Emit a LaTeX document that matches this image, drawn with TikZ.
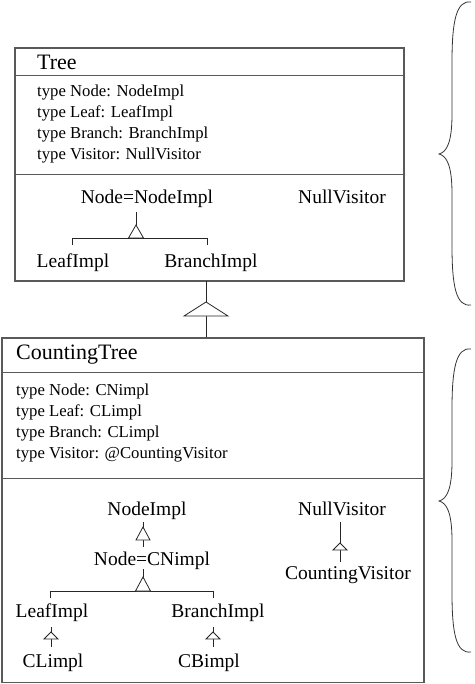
\documentclass[tikz,border=0pt]{standalone}
\usepackage{fontspec}
\setmainfont{Liberation Serif}
\begin{document}
\begin{tikzpicture}[x=1pt,y=-1pt,
  umlbox/.style={draw=black!65,line width=1.1pt},
  sepline/.style={draw=black!65,line width=1pt},
  titletext/.style={font=\fontsize{22}{26}\selectfont,anchor=base west,inner sep=0pt},
  attrtext/.style={font=\fontsize{16.7}{21}\selectfont,anchor=base west,inner sep=0pt},
  clstext/.style={font=\fontsize{19.5}{23}\selectfont,anchor=base,inner sep=0pt},
  conn/.style={draw=black!85,line width=0.8pt},
  tri/.style={draw=black!85,line width=0.8pt,fill=white},
  bracestyle/.style={draw=black!80,line width=0.8pt},
  curlybrace/.pic={
    \draw[bracestyle] (0,0) .. controls (-15,-2) and (-19,20) .. (-19,60)
      -- (-19,112) .. controls (-19,140) and (-24,150) .. (-32,152)
      .. controls (-24,154) and (-19,164) .. (-19,192)
      -- (-19,244) .. controls (-19,284) and (-15,305) .. (0,303);
  }]
\useasboundingbox (0,0) rectangle (474,684);

% ---------------- Tree box ----------------
\draw[umlbox] (15,48) rectangle (404,281);
\draw[sepline] (15,76) -- (404,76);
\draw[sepline] (15,175) -- (404,175);
\node[titletext] (treetitle) at (37,70) {Tree};
\node[attrtext] (ta1) at (37,97) {type Node: NodeImpl};
\node[attrtext] (ta2) at (37,118) {type Leaf: LeafImpl};
\node[attrtext] (ta3) at (37,139) {type Branch: BranchImpl};
\node[attrtext] (ta4) at (37,160) {type Visitor: NullVisitor};

\node[clstext] (tnode) at (147,204) {Node=NodeImpl};
\node[clstext] (tnull) at (342,204) {NullVisitor};
\node[clstext] (tleaf) at (73,267) {LeafImpl};
\node[clstext] (tbranch) at (211,267) {BranchImpl};

\coordinate (tntop) at (136,212);
\coordinate (tnbar) at (136,238);
\coordinate (tbl) at (72,245);
\coordinate (tbr) at (207,245);
\draw[conn] (tntop) -- (tnbar);
\draw[conn] (tbl) -- (72,238) -- (207,238) -- (tbr);
\draw[tri] (136,225) -- (128.5,238) -- (143.5,238) -- cycle;

% ---------------- inheritance Tree <- CountingTree ----------------
\coordinate (treebot) at (206,281);
\coordinate (ctop) at (206,338);
\draw[conn] (treebot) -- (ctop);
\draw[tri] (206,302) -- (184,316) -- (228,316) -- cycle;

% ---------------- CountingTree box ----------------
\draw[umlbox] (2,338) rectangle (424,682.5);
\draw[sepline] (2,372) -- (424,372);
\draw[sepline] (2,478) -- (424,478);
\node[titletext] (ctitle) at (16,359) {CountingTree};
\node[attrtext] (ca1) at (16,395) {type Node: CNimpl};
\node[attrtext] (ca2) at (16,416) {type Leaf: CLimpl};
\node[attrtext] (ca3) at (16,437) {type Branch: CLimpl};
\node[attrtext] (ca4) at (16,458) {type Visitor: @CountingVisitor};

\node[clstext] (cnodeimpl) at (147,515) {NodeImpl};
\node[clstext] (cnode) at (152,565) {Node=CNimpl};
\node[clstext] (cleaf) at (52,617) {LeafImpl};
\node[clstext] (cbranch) at (218,617) {BranchImpl};
\node[clstext] (clim) at (53,667) {CLimpl};
\node[clstext] (cbim) at (209,667) {CBimpl};
\node[clstext] (cnull) at (342,515) {NullVisitor};
\node[clstext] (cvis) at (348,579) {CountingVisitor};

% NodeImpl <- Node=CNimpl
\coordinate (c1a) at (143,522);
\coordinate (c1b) at (143,547);
\draw[conn] (c1a) -- (c1b);
\draw[tri] (143,527) -- (136,540) -- (150,540) -- cycle;

% Node=CNimpl <- LeafImpl, BranchImpl
\coordinate (c2a) at (143,569);
\coordinate (c2b) at (143,591);
\coordinate (cbl) at (50,598);
\coordinate (cbr) at (213,598);
\draw[conn] (c2a) -- (c2b);
\draw[conn] (cbl) -- (50,591) -- (213,591) -- (cbr);
\draw[tri] (143,577) -- (135.5,591) -- (150.5,591) -- cycle;

% LeafImpl <- CLimpl
\coordinate (c3a) at (51,627);
\coordinate (c3b) at (51,647);
\draw[conn] (c3a) -- (c3b);
\draw[tri] (51,632) -- (44,639) -- (58,639) -- cycle;

% BranchImpl <- CBimpl
\coordinate (c4a) at (213,627);
\coordinate (c4b) at (213,647);
\draw[conn] (c4a) -- (c4b);
\draw[tri] (213,632) -- (206,639) -- (220,639) -- cycle;

% NullVisitor <- CountingVisitor
\coordinate (c5a) at (340,522);
\coordinate (c5b) at (340,562);
\draw[conn] (c5a) -- (c5b);
\draw[tri] (340,543) -- (333,550) -- (347,550) -- cycle;

% ---------------- braces ----------------
\pic at (471,2) {curlybrace};
\pic at (471,349) {curlybrace};
\end{tikzpicture}
\end{document}
